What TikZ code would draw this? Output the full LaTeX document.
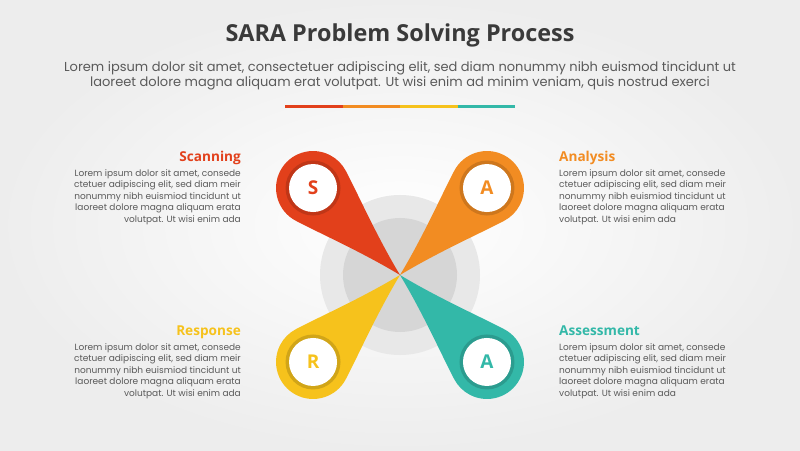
\documentclass[tikz,border=0pt]{standalone}
\usepackage{fontspec}
\setmainfont{Poppins}
\newfontfamily\headfont{Open Sans}
\usetikzlibrary{calc}

\definecolor{sred}{HTML}{E2401B}
\definecolor{sorange}{HTML}{F28C22}
\definecolor{syellow}{HTML}{F6C21C}
\definecolor{steal}{HTML}{33B8A8}
\definecolor{txtgray}{HTML}{5A5A5A}
\definecolor{titlegray}{HTML}{3A3A3A}

\tikzset{
  heading/.style={font=\headfont\bfseries\fontsize{13.6}{15}\selectfont, inner sep=0pt},
  bodytext/.style={font=\fontsize{9}{11.5}\selectfont, text=txtgray, inner sep=0pt},
  letter/.style={circle, fill=white, minimum size=48pt, inner sep=0pt, font=\headfont\bfseries\fontsize{19}{19}\selectfont},
}

\begin{document}
\begin{tikzpicture}[x=1pt,y=1pt]
\useasboundingbox (0,0) rectangle (800,450);
\shade[inner color=white, outer color=black!7] (0,0) rectangle (800,450);

\coordinate (O) at (400,175);

% grey discs behind the petals
\fill[black!9] (O) circle (80);
\fill[black!16] (O) circle (57);

% petals with letter circles
\foreach \ang/\col/\ltr/\nm in {135/sred/S/s, 45/sorange/A/a, 225/syellow/R/r, 315/steal/A/e}{
  \coordinate (\nm) at ($(O)+(\ang:123)$);
  \coordinate (\nm1) at ($(\nm)+(\ang+107.5:37)$);
  \coordinate (\nm2) at ($(\nm)+(\ang-107.5:37)$);
  \fill[\col] (O) .. controls ($(O)+(\ang+14:45)$) and ($(\nm1)!30pt!(O)$) .. (\nm1)
    arc[start angle=\ang+107.5, end angle=\ang-107.5, radius=37]
    .. controls ($(\nm2)!30pt!(O)$) and ($(O)+(\ang-14:45)$) .. (O) -- cycle;
  \fill[\col!85!black] (\nm) circle (27.5);
  \node[letter, text=\col] (\nm l) at (\nm) {\ltr};
}

% title
\node[font=\headfont\bfseries\fontsize{23.4}{27}\selectfont, text=titlegray] (title) at (400,415) {SARA Problem Solving Process};
\node[font=\fontsize{13}{15}\selectfont, text=txtgray, align=center] (sub) at (400,374) {Lorem ipsum dolor sit amet, consectetuer adipiscing elit, sed diam nonummy nibh euismod tincidunt ut\\laoreet dolore magna aliquam erat volutpat. Ut wisi enim ad minim veniam, quis nostrud exerci};
\foreach \i/\col in {0/sred,1/sorange,2/syellow,3/steal}
  \draw[\col, line width=3] (285+57.5*\i,343) -- ++(57.5,0);

% left side
\node[heading, text=sred, anchor=base east] (scan) at (241,288) {Scanning};
\node[bodytext, anchor=north east, align=right] (scantxt) at (241,281) {Lorem ipsum dolor sit amet, consede\\ctetuer adipiscing elit, sed diam meir\\nonummy nibh euismiod tincidunt ut\\laoreet dolore magna aliquam erata\\volutpat. Ut wisi enim ada};
\node[heading, text=syellow, anchor=base east] (resp) at (241,114) {Response};
\node[bodytext, anchor=north east, align=right] (resptxt) at (241,107) {Lorem ipsum dolor sit amet, consede\\ctetuer adipiscing elit, sed diam meir\\nonummy nibh euismiod tincidunt ut\\laoreet dolore magna aliquam erata\\volutpat. Ut wisi enim ada};

% right side
\node[heading, text=sorange, anchor=base west] (anal) at (559,288) {Analysis};
\node[bodytext, anchor=north west, align=left] (analtxt) at (559,281) {Lorem ipsum dolor sit amet, consede\\ctetuer adipiscing elit, sed diam meir\\nonummy nibh euismiod tincidunt ut\\laoreet dolore magna aliquam erata\\volutpat. Ut wisi enim ada};
\node[heading, text=steal, anchor=base west] (asse) at (559,114) {Assessment};
\node[bodytext, anchor=north west, align=left] (assetxt) at (559,107) {Lorem ipsum dolor sit amet, consede\\ctetuer adipiscing elit, sed diam meir\\nonummy nibh euismiod tincidunt ut\\laoreet dolore magna aliquam erata\\volutpat. Ut wisi enim ada};

\end{tikzpicture}
\end{document}
